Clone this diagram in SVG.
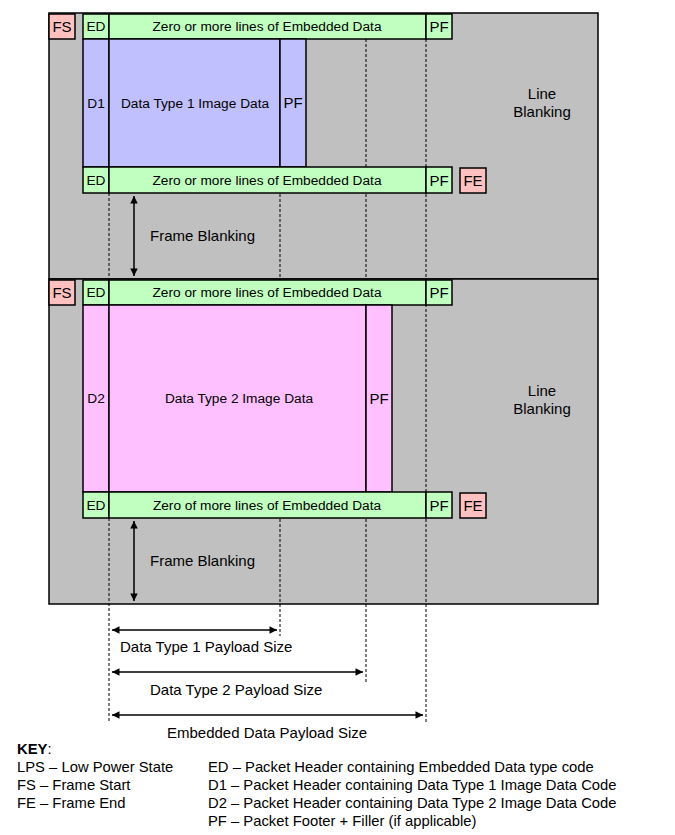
<svg xmlns="http://www.w3.org/2000/svg" width="675" height="835" viewBox="0 0 675 835">
<style>
text{font-family:"Liberation Sans",Arial,sans-serif;font-size:15px;fill:#000}
.s{font-size:13.7px}
.k{font-size:14.8px}
.b{stroke:#000;stroke-width:1.5}
.g{fill:#c0c0c0}.gr{fill:#c0ffc0}.bl{fill:#c0c0ff}.pk{fill:#ffc0ff}.rd{fill:#ffc0c0}
.d{stroke:#000;stroke-width:1;stroke-dasharray:3,2;fill:none}
.a{stroke:#000;stroke-width:1.5;fill:none;marker-start:url(#m);marker-end:url(#m)}
</style>
<defs><marker id="m" viewBox="0 0 10 10" refX="10" refY="5" markerWidth="8" markerHeight="5" orient="auto-start-reverse"><path d="M0,0L10,5L0,10z"/></marker></defs>
<g id="frames">
<rect class="g b" x="49" y="13" width="549" height="266"/>
<rect class="g b" x="49" y="279" width="549" height="325"/>
</g>
<g id="connectors">
<path class="d" d="M109,193V722M280,39V636M366,39V682M426,39V722"/>
<path class="a" d="M134,196V276"/>
<path class="a" d="M134,521V601"/>
<path class="a" d="M112,630H277"/>
<path class="a" d="M112,672H363"/>
<path class="a" d="M112,715H423"/>
</g>
<g id="frame1">
<rect class="rd b" x="49" y="14" width="26" height="25"/><text x="62" y="32" text-anchor="middle">FS</text>
<rect class="gr b" x="83" y="14" width="26" height="25"/><text class="s" x="96" y="31" text-anchor="middle">ED</text>
<rect class="gr b" x="109" y="14" width="317" height="25"/><text class="s" x="267" y="31" text-anchor="middle">Zero or more lines of Embedded Data</text>
<rect class="gr b" x="426" y="14" width="26" height="25"/><text x="439" y="32" text-anchor="middle">PF</text>
<rect class="bl b" x="83" y="39" width="26" height="128"/><text class="s" x="96" y="108" text-anchor="middle">D1</text>
<rect class="bl b" x="109" y="39" width="171" height="128"/><text class="s" x="195" y="108" text-anchor="middle">Data Type 1 Image Data</text>
<rect class="bl b" x="280" y="39" width="26" height="128"/><text x="293" y="108" text-anchor="middle">PF</text>
<rect class="gr b" x="83" y="167" width="26" height="26"/><text class="s" x="96" y="185" text-anchor="middle">ED</text>
<rect class="gr b" x="109" y="167" width="317" height="26"/><text class="s" x="267" y="185" text-anchor="middle">Zero or more lines of Embedded Data</text>
<rect class="gr b" x="426" y="167" width="26" height="26"/><text x="439" y="186" text-anchor="middle">PF</text>
<rect class="rd b" x="460" y="168" width="26" height="25"/><text x="473" y="186" text-anchor="middle">FE</text>
<text x="542" y="99" text-anchor="middle">Line</text><text x="542" y="117" text-anchor="middle">Blanking</text>
<text x="150" y="241">Frame Blanking</text>
</g>
<g id="frame2">
<rect class="rd b" x="49" y="280" width="26" height="25"/><text x="62" y="298" text-anchor="middle">FS</text>
<rect class="gr b" x="83" y="280" width="26" height="25"/><text class="s" x="96" y="297" text-anchor="middle">ED</text>
<rect class="gr b" x="109" y="280" width="317" height="25"/><text class="s" x="267" y="297" text-anchor="middle">Zero or more lines of Embedded Data</text>
<rect class="gr b" x="426" y="280" width="26" height="25"/><text x="439" y="298" text-anchor="middle">PF</text>
<rect class="pk b" x="83" y="305" width="26" height="187"/><text class="s" x="96" y="403" text-anchor="middle">D2</text>
<rect class="pk b" x="109" y="305" width="257" height="187"/><text class="s" x="239" y="403" text-anchor="middle">Data Type 2 Image Data</text>
<rect class="pk b" x="366" y="305" width="26" height="187"/><text x="379" y="404" text-anchor="middle">PF</text>
<rect class="gr b" x="83" y="492" width="26" height="26"/><text class="s" x="96" y="510" text-anchor="middle">ED</text>
<rect class="gr b" x="109" y="492" width="317" height="26"/><text class="s" x="267" y="510" text-anchor="middle">Zero of more lines of Embedded Data</text>
<rect class="gr b" x="426" y="492" width="26" height="26"/><text x="439" y="511" text-anchor="middle">PF</text>
<rect class="rd b" x="460" y="493" width="26" height="25"/><text x="473" y="511" text-anchor="middle">FE</text>
<text x="542" y="396" text-anchor="middle">Line</text><text x="542" y="414" text-anchor="middle">Blanking</text>
<text x="150" y="566">Frame Blanking</text>
</g>
<g id="dims">
<text x="120" y="652">Data Type 1 Payload Size</text>
<text x="150" y="695">Data Type 2 Payload Size</text>
<text x="167" y="738">Embedded Data Payload Size</text>
</g>
<g id="key">
<text class="k" x="17" y="754"><tspan font-weight="bold">KEY</tspan>:</text>
<text class="k" x="17" y="772">LPS – Low Power State</text>
<text class="k" x="17" y="790">FS – Frame Start</text>
<text class="k" x="17" y="808">FE – Frame End</text>
<text class="k" x="208" y="772">ED – Packet Header containing Embedded Data type code</text>
<text class="k" x="208" y="790">D1 – Packet Header containing Data Type 1 Image Data Code</text>
<text class="k" x="208" y="808">D2 – Packet Header containing Data Type 2 Image Data Code</text>
<text class="k" x="208" y="826">PF – Packet Footer + Filler (if applicable)</text>
</g>
</svg>
